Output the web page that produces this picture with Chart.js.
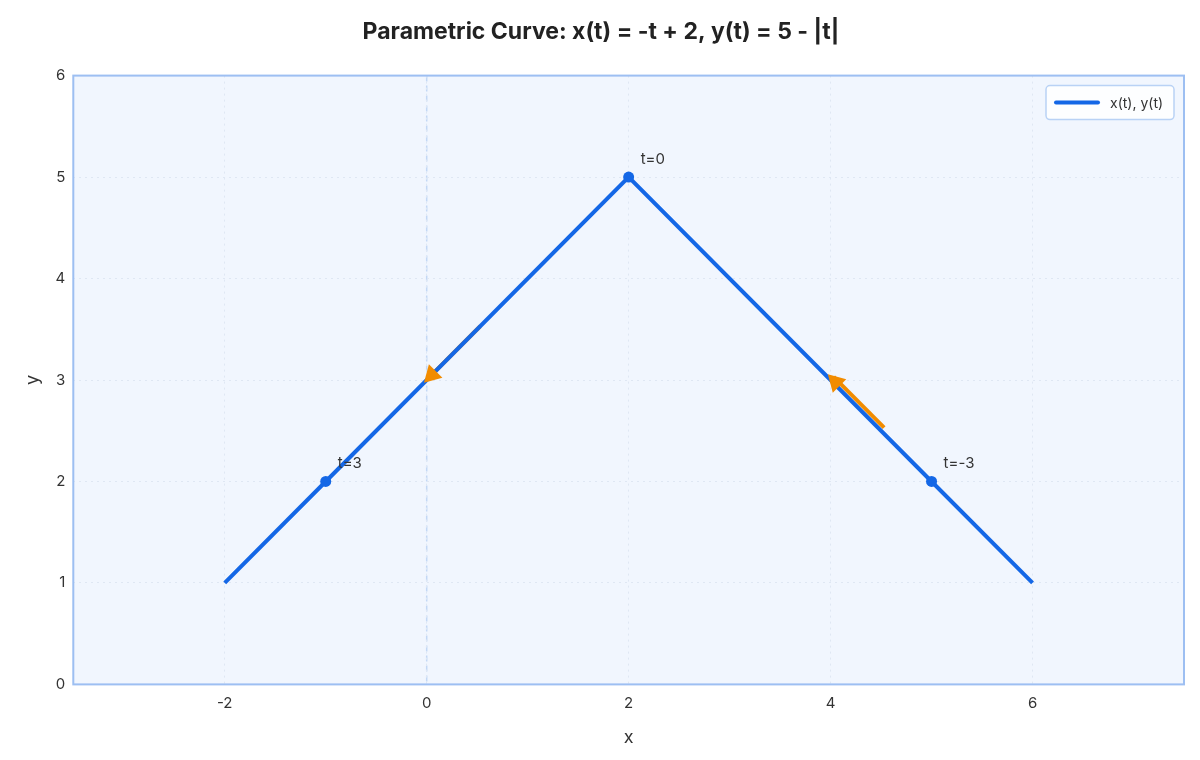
<!DOCTYPE html>
<html><head><meta charset="utf-8">
<script src="https://cdn.jsdelivr.net/npm/chart.js@4"></script>
<style>body{margin:0;background:#fff}#w{width:1200px;height:760px}</style></head>
<body><div id="w"><canvas id="c"></canvas></div>
<script>
const tValues=[-4,-3,0,3,4];
const xValues=[6,5,2,-1,-2];
const yValues=[1,2,5,2,1];
const markerT=[-3,0,3];
const markerX=[5,2,-1];
const markerY=[2,5,2];
const markerLabels=['t=-3','t=0','t=3'];
const arrowTails=[[0.5,3.5],[4.5,2.5]];
const arrowHeads=[[0,3],[4,3]];
const xTicks=[-2,0,2,4,6];
const yTicks=[0,1,2,3,4,5,6];
const FONT='Inter, "DejaVu Sans", sans-serif';
Chart.defaults.font.family=FONT;
const bgPlugin={id:'bg',beforeDraw(ch){const a=ch.chartArea,c=ch.ctx;c.save();c.fillStyle='#f1f6fe';c.fillRect(a.left,a.top,a.width,a.height);
const x0=ch.scales.x.getPixelForValue(0);c.strokeStyle='#c3d8f6';c.lineWidth=1.5;c.setLineDash([6,4]);c.beginPath();c.moveTo(x0,a.top);c.lineTo(x0,a.bottom);c.stroke();c.restore();},
afterDraw(ch){const a=ch.chartArea,c=ch.ctx;c.save();c.strokeStyle='#9dbff2';c.lineWidth=2;c.strokeRect(a.left,a.top,a.width,a.height);
c.fillStyle='#333';c.font='15px '+FONT;c.textBaseline='bottom';
markerLabels.forEach((l,i)=>{const px=ch.scales.x.getPixelForValue(markerX[i]),py=ch.scales.y.getPixelForValue(markerY[i]);c.fillText(l,px+12,py-10);});c.restore();}};
const arrowShafts=arrowTails.map((tl,i)=>({label:'arrow',data:[{x:tl[0]+0.03,y:tl[1]+0.03},{x:arrowHeads[i][0]+0.03,y:arrowHeads[i][1]+0.03}],borderColor:'#f28c00',borderWidth:4,
pointRadius:0,order:3,showLine:true}));
const arrowHeadSets=arrowHeads.map((h,i)=>({label:'head',data:[{x:h[0]+0.06*(i===0?1:-1)*0+0.05,y:h[1]+(i===0?0.05:-0.02)}],pointRadius:11,pointStyle:'triangle',pointBackgroundColor:'#f28c00',pointBorderWidth:0,pointRotation:i===0?225:315,order:-1}));
new Chart(document.getElementById('c'),{type:'scatter',
data:{datasets:[
{label:'x(t), y(t)',data:xValues.map((x,i)=>({x,y:yValues[i]})),showLine:true,borderColor:'#1467e6',backgroundColor:'#1467e6',borderWidth:4,pointRadius:0,order:1},
{label:'markers',data:markerX.map((x,i)=>({x,y:markerY[i]})),pointRadius:5.5,pointBackgroundColor:'#1467e6',pointBorderWidth:0,order:0},
...arrowShafts,...arrowHeadSets]},
options:{responsive:true,maintainAspectRatio:false,animation:false,
layout:{padding:{left:18,right:16,top:12,bottom:8}},
plugins:{title:{display:true,text:'Parametric Curve: x(t) = -t + 2, y(t) = 5 - |t|',color:'#222',font:{size:23,weight:'bold'},padding:{top:6,bottom:30}},
legend:{display:false},tooltip:{enabled:false}},
scales:{x:{min:-3.5,max:7.5,afterBuildTicks(s){s.ticks=xTicks.map(v=>({value:v}));},grid:{color:'#dfe7f3',drawTicks:false},border:{display:false,dash:[2,4]},
ticks:{color:'#333',font:{size:15},padding:10},title:{display:true,text:'x',color:'#333',font:{size:18}}},
y:{min:0,max:6,afterBuildTicks(s){s.ticks=yTicks.map(v=>({value:v}));},grid:{color:'#dfe7f3',drawTicks:false},border:{display:false,dash:[2,4]},
ticks:{color:'#333',font:{size:15},padding:8},title:{display:true,text:'y',color:'#333',font:{size:18}}}}},
plugins:[bgPlugin,{id:'leg',afterDraw(ch){const a=ch.chartArea,c=ch.ctx;c.save();const w=128,h=34,x=a.right-w-10,y=a.top+10;
c.fillStyle='rgba(255,255,255,0.85)';c.strokeStyle='#b9d2f5';c.lineWidth=1.5;c.beginPath();c.roundRect(x,y,w,h,4);c.fill();c.stroke();
c.strokeStyle='#1467e6';c.lineWidth=4;c.lineCap='round';c.beginPath();c.moveTo(x+10,y+h/2);c.lineTo(x+52,y+h/2);c.stroke();
c.fillStyle='#333';c.font='14px '+FONT;c.textBaseline='middle';c.fillText('x(t), y(t)',x+64,y+h/2+1);c.restore();}}]});
</script></body></html>
